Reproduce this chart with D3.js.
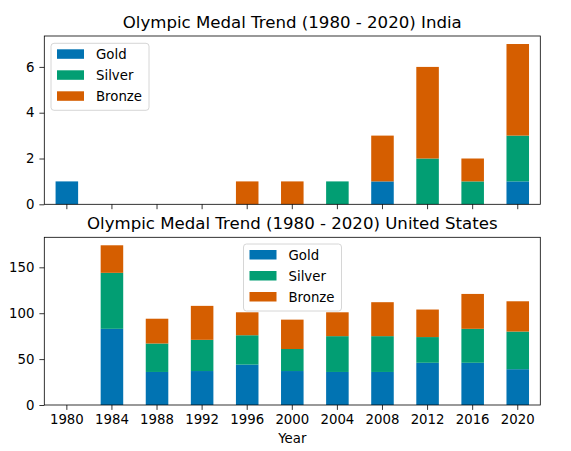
<!DOCTYPE html>
<html>
<head>
<meta charset="utf-8">
<script src="https://cdn.jsdelivr.net/npm/d3@7"></script>
<style>
  body { margin: 0; background: #fff; }
  text { font-family: "DejaVu Sans", sans-serif; fill: #000; }
</style>
</head>
<body>
<div id="chart"></div>
<script>
// Data
const years = ["1980", "1984", "1988", "1992", "1996", "2000", "2004", "2008", "2012", "2016", "2020"];
const medalTypes = ["Gold", "Silver", "Bronze"];
const indiaGold   = [1, 0, 0, 0, 0, 0, 0, 1, 0, 0, 1];
const indiaSilver = [0, 0, 0, 0, 0, 0, 1, 0, 2, 1, 2];
const indiaBronze = [0, 0, 0, 0, 1, 1, 0, 2, 4, 1, 4];
const usGold   = [0, 83, 36, 37, 44, 37, 36, 36, 46, 46, 39];
const usSilver = [0, 61, 31, 34, 32, 24, 39, 39, 28, 37, 41];
const usBronze = [0, 30, 27, 37, 25, 32, 26, 37, 30, 38, 33];
const indiaTicks = [0, 2, 4, 6];
const usTicks = [0, 50, 100, 150];

const colors = ["#0173b2", "#029e73", "#d55e00"];

const W = 571, H = 451;
const svg = d3.select("#chart").append("svg")
    .attr("width", W).attr("height", H);

const left = 44.3, right = 540.3;

function panel(cfg) {
    const rows = years.map((y, i) => ({
        year: y, Gold: cfg.gold[i], Silver: cfg.silver[i], Bronze: cfg.bronze[i]
    }));
    const stacked = d3.stack().keys(medalTypes)(rows);
    const maxTotal = d3.max(rows, d => d.Gold + d.Silver + d.Bronze);

    const x = d3.scaleBand().domain(years).range([left, right]).paddingInner(0.5).paddingOuter(0.25);
    const y = d3.scaleLinear().domain([0, maxTotal * 1.05]).range([cfg.bottom, cfg.top]);

    const g = svg.append("g");

    // bars
    g.selectAll("g.layer").data(stacked).join("g")
        .attr("fill", (d, i) => colors[i])
        .selectAll("rect").data(d => d).join("rect")
        .attr("x", d => x(d.data.year))
        .attr("width", x.bandwidth())
        .attr("y", d => y(d[1]))
        .attr("height", d => y(d[0]) - y(d[1]));

    // y axis
    const ya = g.append("g")
        .attr("transform", `translate(${left},0)`)
        .call(d3.axisLeft(y).tickValues(cfg.ticks).tickSize(4.9).tickPadding(4.9));
    ya.select(".domain").remove();
    ya.selectAll("text").style("font-size", "13.3px");
    ya.selectAll("line").attr("stroke", "#000").attr("stroke-width", 0.8);

    // x axis
    const xa = g.append("g")
        .attr("transform", `translate(0,${cfg.bottom})`)
        .call(d3.axisBottom(x).tickSize(4.9).tickPadding(4.9).tickFormat(cfg.showLabels ? d => d : ""));
    xa.select(".domain").remove();
    xa.selectAll("text").style("font-size", "13.3px");
    xa.selectAll("line").attr("stroke", "#000").attr("stroke-width", 0.8);

    // frame
    g.append("rect")
        .attr("x", left).attr("y", cfg.top)
        .attr("width", right - left).attr("height", cfg.bottom - cfg.top)
        .attr("fill", "none").attr("stroke", "#000").attr("stroke-width", 0.8);

    // title
    g.append("text")
        .attr("x", (left + right) / 2).attr("y", cfg.top - 8)
        .attr("text-anchor", "middle")
        .style("font-size", "16.6px")
        .text(cfg.title);

    // legend
    const lg = g.append("g").attr("transform", `translate(${cfg.legendX},${cfg.legendY})`);
    lg.append("rect")
        .attr("width", 98).attr("height", 67).attr("rx", 3)
        .attr("fill", "#fff").attr("fill-opacity", 0.8)
        .attr("stroke", "#ccc").attr("stroke-width", 0.8);
    medalTypes.forEach((m, i) => {
        lg.append("rect")
            .attr("x", 6).attr("y", 6 + i * 21)
            .attr("width", 27).attr("height", 9.5)
            .attr("fill", colors[i]);
        lg.append("text")
            .attr("x", 45).attr("y", 15.5 + i * 21)
            .style("font-size", "13.3px")
            .text(m);
    });
}

panel({
    gold: indiaGold, silver: indiaSilver, bronze: indiaBronze,
    ticks: indiaTicks, top: 36, bottom: 204.3,
    title: "Olympic Medal Trend (1980 - 2020) India",
    legendX: 51, legendY: 43.3, showLabels: false
});

panel({
    gold: usGold, silver: usSilver, bronze: usBronze,
    ticks: usTicks, top: 237.3, bottom: 405,
    title: "Olympic Medal Trend (1980 - 2020) United States",
    legendX: 243.5, legendY: 244, showLabels: true
});

svg.append("text")
    .attr("x", (left + right) / 2).attr("y", 443)
    .attr("text-anchor", "middle")
    .style("font-size", "13.3px")
    .text("Year");
</script>
</body>
</html>
